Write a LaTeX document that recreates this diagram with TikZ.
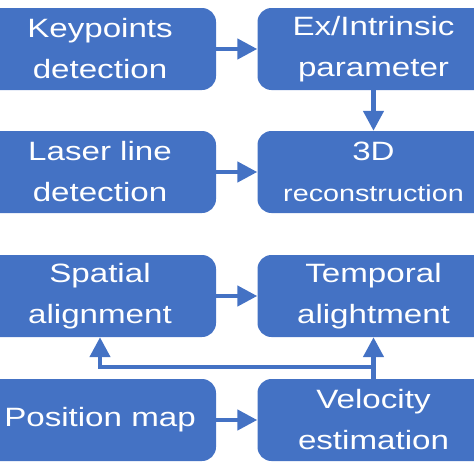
\documentclass[tikz,border=0pt]{standalone}
\usepackage{fontspec}
\newfontfamily\boxfont[FakeStretch=1.25]{Liberation Sans}
\usetikzlibrary{arrows.meta}

\definecolor{boxblue}{HTML}{4472C4}

\begin{document}
\begin{tikzpicture}[x=1pt, y=-1pt,
    box/.style={fill=boxblue, draw=none, rounded corners=14pt, minimum width=232pt,
      minimum height=82pt, inner sep=0pt, text=white, align=center,
      font=\boxfont\fontsize{26.5}{41}\selectfont},
    link/.style={line width=4.5pt, draw=boxblue, -{Triangle[length=20pt, width=20pt]}}]
      \useasboundingbox (0,0) rectangle (474,474);
      \clip (0,0) rectangle (474,474);
      % boxes
      \node[box] (kp) at (100,49) {Keypoints\\detection};
      \node[box] (param) at (373.5,49) {Ex/Intrinsic\\parameter};
      \node[box] (laser) at (100,172) {Laser line\\detection};
      \node[box] (recon) at (373.5,172) {3D\\{\fontsize{23}{30}\selectfont reconstruction}};
      \node[box] (spatial) at (100,296) {Spatial\\alignment};
      \node[box] (temporal) at (373.5,296) {Temporal\\alightment};
      \node[box] (posmap) at (100,420) {Position map};
      \node[box] (velocity) at (373.5,420) {Velocity\\estimation};
      % arrows
      \draw[link] (kp) -- (param);
      \draw[link] (param) -- (recon);
      \draw[link] (laser) -- (recon);
      \draw[link] (spatial) -- (temporal);
      \draw[link] (posmap) -- (velocity);
      \coordinate (split) at (373.5,367);
      \draw[link] (velocity.north) -- (temporal.south);
      \draw[link] (split) -| (spatial.south);
\end{tikzpicture}
\end{document}
